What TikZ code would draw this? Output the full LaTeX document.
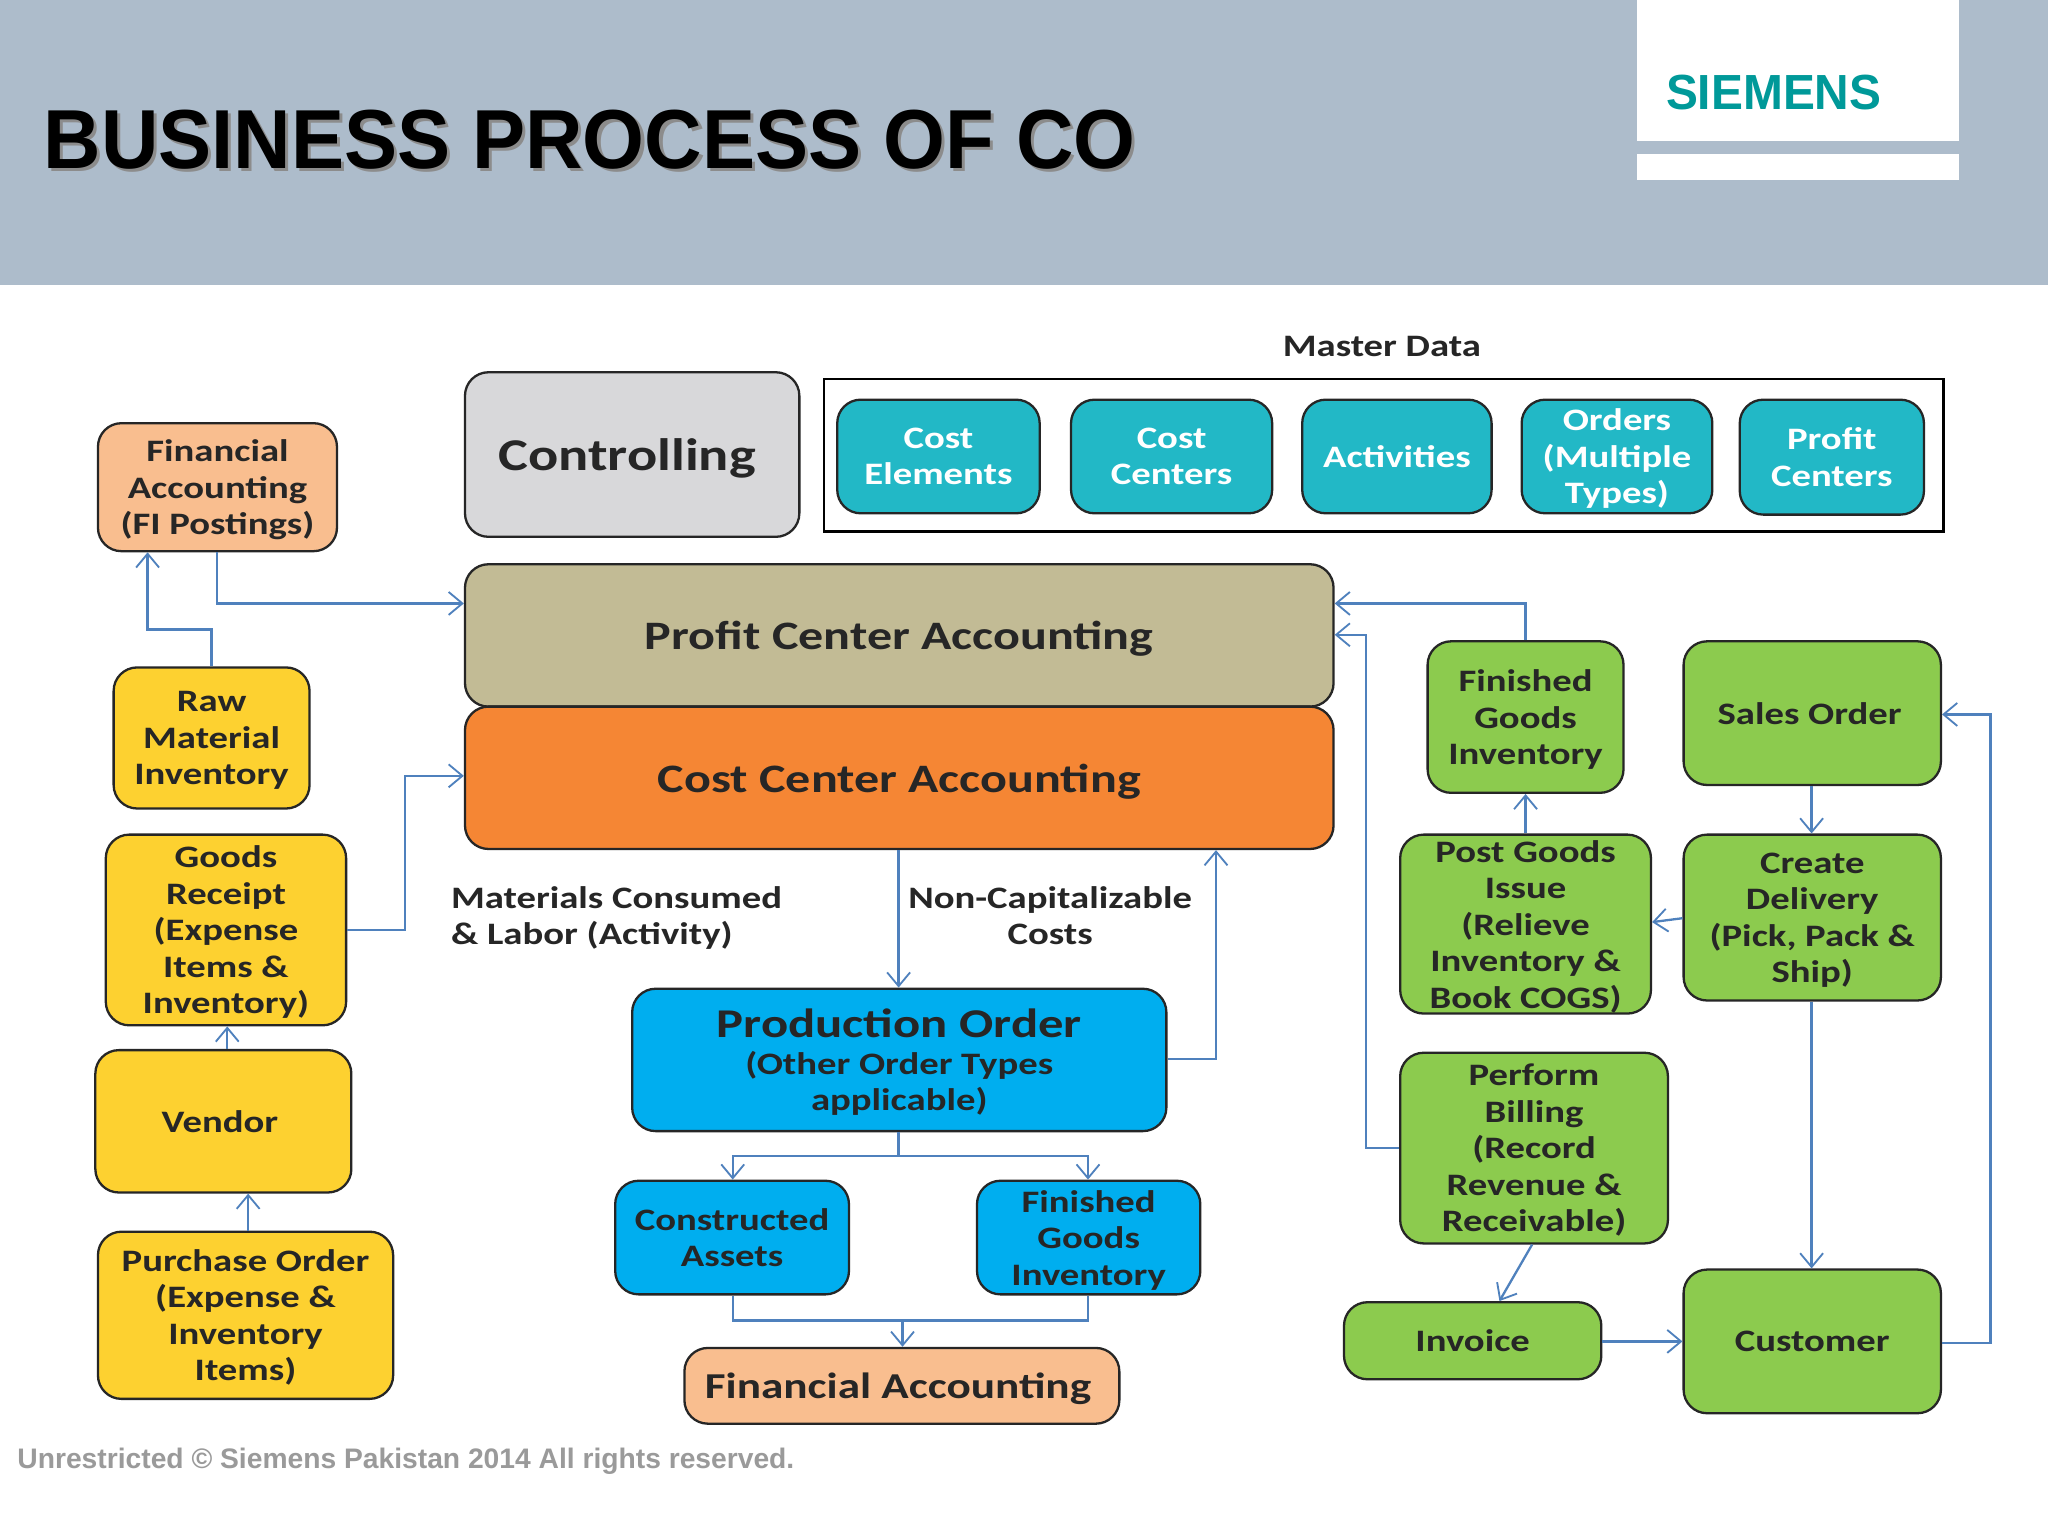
\documentclass[tikz,border=0pt]{standalone}
\usepackage{fontspec}
\setmainfont{Carlito}[FakeStretch=1.24]
\newfontfamily\headfont{Liberation Sans}
\newfontfamily\titlefont{Liberation Sans}[FakeStretch=0.95]
\newfontfamily\logofont{Liberation Sans}[FakeStretch=0.97]
\usetikzlibrary{arrows.meta}
\definecolor{headbg}{HTML}{ADBCCB}
\definecolor{siem}{HTML}{009999}
\definecolor{peachc}{HTML}{F9BE8F}
\definecolor{greyc}{HTML}{D8D8DA}
\definecolor{tealc}{HTML}{22B8C6}
\definecolor{khakic}{HTML}{C2BB95}
\definecolor{orangec}{HTML}{F58634}
\definecolor{yellowc}{HTML}{FDD130}
\definecolor{bluec}{HTML}{00AEEF}
\definecolor{greenc}{HTML}{8CCB4E}
\definecolor{linkc}{HTML}{4F81BD}
\definecolor{inkc}{HTML}{262626}
\definecolor{footc}{HTML}{9A9A9A}
\tikzset{
  box/.style={draw=inkc,line width=1pt,rounded corners=0.36cm,inner sep=0pt,align=center,text=inkc,text depth=0pt,
     font=\fontsize{13.6}{15.9}\selectfont\bfseries},
  peach/.style={box,fill=peachc},
  teal box/.style={box,fill=tealc,text=white},
  yellow box/.style={box,fill=yellowc},
  blue box/.style={box,fill=bluec},
  green box/.style={box,fill=greenc},
  big/.style={font=\fontsize{17.6}{19}\selectfont\bfseries},
  link/.style={draw=linkc,line width=1pt,-{Straight Barb[length=6pt,width=10pt,line width=0.8pt]}},
  plain/.style={draw=linkc,line width=1pt},
  lab/.style={inner sep=0pt,align=center,text=inkc,font=\fontsize{13.6}{15.9}\selectfont\bfseries},
}
\newcommand\bx[7]{%
  \pgfmathsetmacro\cxx{(#2+#4)/2}\pgfmathsetmacro\cyy{(#3+#5)/2}%
  \node[#6,minimum width={(#4-#2)*0.02cm},minimum height={(#5-#3)*0.02cm}] (#1) at (\cxx,\cyy) {#7};}
\begin{document}
\begin{tikzpicture}[x=0.02cm,y=-0.02cm]
\useasboundingbox (0,0) rectangle (1568,1176);
\fill[white] (0,0) rectangle (1568,1176);
\fill[headbg] (0,0) rectangle (1568,218);
\fill[white] (1253,0) rectangle (1500,108);
\fill[white] (1253,118) rectangle (1500,138);
\node[anchor=center,inner sep=0pt,text=siem,font=\fontsize{21.5}{24}\logofont\bfseries] (logo) at (1358,71) {SIEMENS};
\node[anchor=west,inner sep=0pt,text=black!45,font=\fontsize{36.5}{40}\titlefont\bfseries] (titleshadow) at (35.5,109.5) {BUSINESS PROCESS OF CO};
\node[anchor=west,inner sep=0pt,text=black,font=\fontsize{36.5}{40}\titlefont\bfseries] (title) at (33,107) {BUSINESS PROCESS OF CO};

\node[lab] (mdt) at (1058,265) {Master Data};
\bx{mdf}{631}{290}{1488}{407}{draw=black,line width=1pt,inner sep=0pt}{}
\bx{ctrl}{356}{285}{612}{411}{box,fill=greyc,font=\fontsize{19.8}{21}\selectfont\bfseries}{\hspace*{-4.5pt}Controlling}
\bx{ce}{641}{306}{796}{393}{teal box}{Cost\\Elements}
\bx{cc}{820}{306}{974}{393}{teal box}{Cost\\Centers}
\bx{act}{997}{306}{1142}{393}{teal box}{Activities}
\bx{ord}{1165}{306}{1311}{393}{teal box}{Orders\\(Multiple\\Types)}
\bx{pc}{1332}{306}{1473}{394}{teal box}{Profit\\Centers}

\bx{fi}{75}{324}{258}{422}{peach}{Financial\\Accounting\\(FI Postings)}
\bx{raw}{87}{511}{237}{619}{yellow box}{Raw\\Material\\Inventory}
\bx{gr}{81}{639}{265}{785}{yellow box}{Goods\\Receipt\\(Expense\\Items \&\\Inventory)}
\bx{ven}{73}{804}{269}{913}{yellow box}{\hspace*{-3pt}Vendor}
\bx{po}{75}{943}{301}{1071}{yellow box}{Purchase Order\\(Expense \&\\Inventory\\Items)}

\bx{pca}{356}{432}{1021}{541}{box,fill=khakic,big}{Profit Center Accounting}
\bx{cca}{356}{541}{1021}{650}{box,fill=orangec,big}{Cost Center Accounting}
\bx{prod}{484}{757}{893}{866}{blue box}{{\fontsize{17.8}{17}\selectfont Production Order}\\(Other Order Types\\applicable)}
\bx{ca}{471}{904}{650}{991}{blue box}{Constructed\\Assets}
\bx{fg2}{748}{904}{919}{991}{blue box}{Finished\\Goods\\Inventory}
\bx{fa}{524}{1032}{857}{1090}{peach,font=\fontsize{15.9}{18}\selectfont\bfseries}{\hspace*{-3.4pt}Financial Accounting}

\bx{fg}{1093}{491}{1243}{607}{green box}{Finished\\Goods\\Inventory}
\bx{so}{1289}{491}{1486}{601}{green box}{\hspace*{-2.3pt}Sales Order}
\bx{pgi}{1072}{639}{1264}{776}{green box}{Post Goods\\Issue\\(Relieve\\Inventory \&\\Book COGS)}
\bx{cd}{1289}{639}{1486}{766}{green box}{Create\\Delivery\\(Pick, Pack \&\\Ship)}
\bx{bill}{1072}{806}{1277}{952}{green box}{Perform\\Billing\\(Record\\Revenue \&\\Receivable)}
\bx{inv}{1029}{997}{1226}{1056}{green box}{Invoice}
\bx{cust}{1289}{972}{1486}{1082}{green box}{Customer}

\node[lab,anchor=west,align=left] (mat) at (345,703) {Materials Consumed\\\& Labor (Activity)};
\node[lab] (ncc) at (804,701) {Non-Capitalizable\\Costs};
\node[anchor=west,inner sep=0pt,text=footc,font=\fontsize{12.3}{14}\headfont\bfseries] (foot) at (13,1118.5) {Unrestricted © Siemens Pakistan 2014 All rights reserved.};

% connectors
\draw[link] (raw.north -| 162,0) -- (162,482) -- (113,482) -- (fi.south -| 113,0);
\draw[link] (fi.south -| 166,0) -- (166,462) -- (pca.west |- 0,462);
\draw[link] (gr.east |- 0,712) -- (310,712) -- (310,594) -- (cca.west |- 0,594);
\draw[link] (ven.north -| 174,0) -- (gr.south -| 174,0);
\draw[link] (po.north -| 190,0) -- (ven.south -| 190,0);
\draw[link] (cca.south -| 688,0) -- (prod.north -| 688,0);
\draw[link] (prod.east |- 0,811) -- (931,811) -- (cca.south -| 931,0);
\draw[plain] (prod.south -| 688,0) -- (688,885);
\draw[link] (688,885) -- (561,885) -- (ca.north -| 561,0);
\draw[link] (688,885) -- (833,885) -- (fg2.north -| 833,0);
\draw[plain] (ca.south -| 561,0) -- (561,1011) -- (833,1011) -- (fg2.south -| 833,0);
\draw[link] (691,1011) -- (fa.north -| 691,0);
\draw[link] (fg.north -| 1168,0) -- (1168,462) -- (pca.east |- 0,462);
\draw[link] (bill.west |- 0,879) -- (1046,879) -- (1046,486) -- (pca.east |- 0,486);
\draw[link] (pgi.north -| 1168,0) -- (fg.south -| 1168,0);
\draw[link] (so.south -| 1387,0) -- (cd.north -| 1387,0);
\draw[link] (cd.west |- 0,703) -- (pgi.east |- 0,706);
\draw[link] (cd.south -| 1387,0) -- (cust.north -| 1387,0);
\draw[link] (bill.south -| 1173,0) -- (inv.north -| 1148,0);
\draw[link] (inv.east |- 0,1027) -- (cust.west |- 0,1027);
\draw[link] (cust.east |- 0,1028) -- (1524,1028) -- (1524,547) -- (so.east |- 0,547);
\end{tikzpicture}
\end{document}
